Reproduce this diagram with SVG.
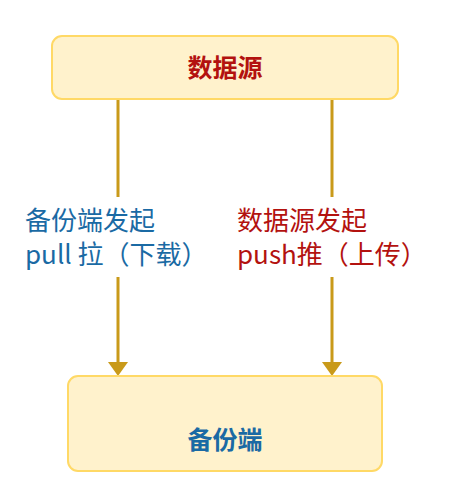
<svg xmlns="http://www.w3.org/2000/svg" width="459" height="490" viewBox="0 0 459 490">
<style>
.box{fill:#fff2cc;stroke:#ffd966;stroke-width:2}
.edge{stroke:#c99a1a;stroke-width:3;fill:none}
.t{font-family:"Noto Sans CJK SC","Noto Sans",sans-serif}
.title{font-size:25px;font-weight:bold;text-anchor:middle}
.lab{font-size:26px}
.blue{fill:#1a6aa4}
.red{fill:#b3120f}
</style>
<g id="connectors">
<path class="edge" d="M118,100 V197 M118,277 V362"/>
<path d="M108,362 L128,362 L118,376 Z" fill="#c99a1a"/>
<path class="edge" d="M332,100 V197 M332,277 V362"/>
<path d="M322,362 L342,362 L332,376 Z" fill="#c99a1a"/>
<text class="t lab blue" x="25" y="230">备份端发起</text>
<text class="t lab blue" x="25" y="264">pull 拉（下载）</text>
<text class="t lab red" x="237" y="230">数据源发起</text>
<text class="t lab red" x="237" y="264">push推（上传）</text>
</g>
<g id="source">
<rect class="box" x="52" y="36" width="346" height="63" rx="10"/>
<text class="t title red" x="225" y="77">数据源</text>
</g>
<g id="backup">
<rect class="box" x="68" y="376" width="314" height="95" rx="10"/>
<text class="t title blue" x="225" y="449">备份端</text>
</g>
</svg>
